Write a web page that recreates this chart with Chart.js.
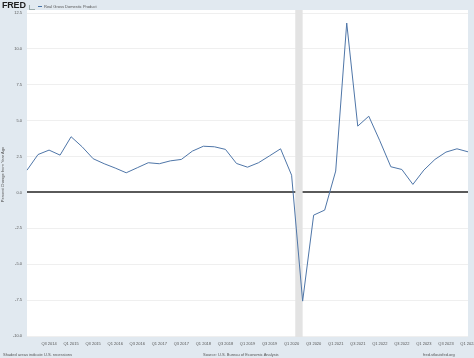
<!DOCTYPE html>
<html>
<head>
<meta charset="utf-8">
<script src="https://cdn.jsdelivr.net/npm/chart.js@4"></script>
<style>
  html, body { margin: 0; padding: 0; background: #e1e9f0; font-family: "Liberation Sans", Arial, sans-serif; }
  #wrap { position: relative; width: 474px; height: 358px; overflow: hidden; }
  canvas { position: absolute; left: 0; top: 0; }
  .txt { position: absolute; color: #555; font-size: 4px; line-height: 5px; white-space: nowrap; }
  #logo { position: absolute; left: 2px; top: 1px; font-size: 9px; font-weight: bold; color: #1f1f1f; letter-spacing: -0.2px; line-height: 9px; }
  #icone { position: absolute; left: 29px; top: 5px; width: 5px; height: 4px; border-left: 1px solid #9aa; border-bottom: 1px solid #9aa; }
  #legline { position: absolute; left: 38px; top: 6px; width: 4px; height: 1px; background: #4572a7; }
</style>
</head>
<body>
<div id="wrap">
  <canvas id="grafico" width="474" height="358"></canvas>
  <div id="logo">FRED</div>
  <div id="icone"></div>
  <div id="legline"></div>
  <div class="txt" style="left:44px; top:4px;">Real Gross Domestic Product</div>
  <div class="txt" style="left:3px; top:352px;">Shaded areas indicate U.S. recessions</div>
  <div class="txt" style="left:203px; top:352px;">Source: U.S. Bureau of Economic Analysis</div>
  <div class="txt" style="left:423px; top:352px;">fred.stlouisfed.org</div>
</div>
<script>
// Trimestres de Q1 2014 a Q1 2024
const trimestres = [];
for (let ano = 2014; ano <= 2024; ano++) {
  for (let q = 1; q <= 4; q++) {
    if (ano === 2024 && q > 1) break;
    trimestres.push('Q' + q + ' ' + ano);
  }
}

// PIB real, variação % sobre o mesmo trimestre do ano anterior
const variacaoPib = [
  1.55, 2.64, 2.95, 2.6,
  3.88, 3.18, 2.35, 2.0,
  1.7, 1.37, 1.72, 2.07,
  2.0, 2.2, 2.3, 2.88,
  3.22, 3.18, 3.0, 2.02,
  1.76, 2.07, 2.55, 3.04,
  1.2, -7.57, -1.58, -1.23,
  1.49, 11.8, 4.62, 5.31,
  3.6, 1.79, 1.6, 0.56,
  1.56, 2.3, 2.81, 3.04,
  2.83
];

// Recessão (em trimestres a partir de Q1 2014): fev 2020 a abr 2020
const recessao = [24 + 1 / 3, 25];

const yTicks = [12.5, 10, 7.5, 5, 2.5, 0, -2.5, -5, -7.5, -10];

// Fundo branco da área do gráfico + faixa da recessão
const fundoPlugin = {
  id: 'fundo',
  beforeDraw(chart) {
    const { ctx, chartArea } = chart;
    ctx.save();
    ctx.fillStyle = '#ffffff';
    ctx.fillRect(chartArea.left, chartArea.top - 3, chartArea.right - chartArea.left, chartArea.bottom - chartArea.top + 4);
    ctx.restore();
  },
  beforeDatasetsDraw(chart) {
    const { ctx, chartArea, scales } = chart;
    const x1 = scales.x.getPixelForValue(recessao[0]);
    const x2 = scales.x.getPixelForValue(recessao[1]);
    ctx.save();
    ctx.fillStyle = '#e3e3e3';
    ctx.fillRect(x1, chartArea.top - 3, x2 - x1, chartArea.bottom - chartArea.top + 4);
    ctx.restore();
  }
};

new Chart(document.getElementById('grafico').getContext('2d'), {
  type: 'line',
  data: {
    labels: trimestres,
    datasets: [{
      label: 'Real Gross Domestic Product',
      data: variacaoPib,
      borderColor: '#4f76a8',
      borderWidth: 1,
      pointRadius: 0,
      tension: 0,
      fill: false
    }]
  },
  plugins: [fundoPlugin],
  options: {
    responsive: false,
    animation: false,
    layout: { padding: { top: 13, right: 6, left: 0, bottom: 0 } },
    plugins: { legend: { display: false }, tooltip: { enabled: false } },
    scales: {
      x: {
        type: 'category',
        offset: false,
        grid: { display: false, drawTicks: false },
        border: { display: false },
        afterFit(scale) {
          scale.height = 22;
          scale.paddingLeft = 0;
          scale.paddingRight = 0;
        },
        ticks: {
          autoSkip: false,
          maxRotation: 0,
          minRotation: 0,
          padding: 5,
          color: '#555',
          font: { size: 4, family: 'Liberation Sans' },
          callback(val, i) {
            return (i >= 2 && i % 2 === 0) ? trimestres[i] : '';
          }
        }
      },
      y: {
        min: -10,
        max: 12.5,
        afterBuildTicks(scale) { scale.ticks = yTicks.map(v => ({ value: v })); },
        afterFit(scale) { scale.width = 27; },
        grid: {
          drawTicks: false,
          color: ctx => ctx.tick && ctx.tick.value === 0 ? '#5a5a5a' : '#efefef',
          lineWidth: ctx => ctx.tick && ctx.tick.value === 0 ? 2 : 1
        },
        border: { display: false },
        ticks: {
          padding: 5,
          color: '#555',
          font: { size: 4, family: 'Liberation Sans' },
          callback: v => v.toFixed(1)
        },
        title: {
          display: true,
          text: 'Percent Change from Year Ago',
          color: '#555',
          font: { size: 4, family: 'Liberation Sans' },
          padding: 0
        }
      }
    }
  }
});
</script>
</body>
</html>
